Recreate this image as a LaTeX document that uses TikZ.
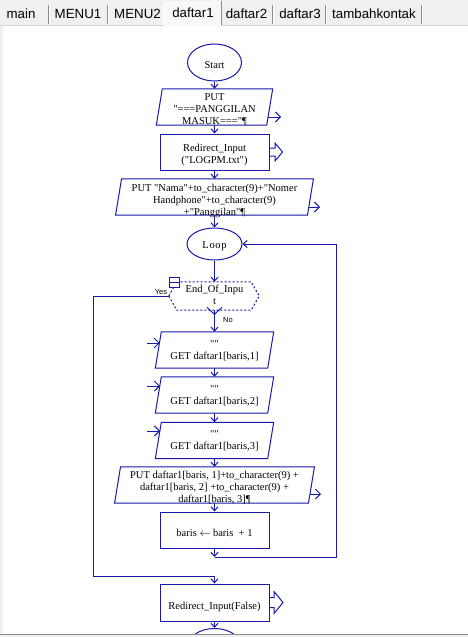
\documentclass[tikz,border=0pt]{standalone}
\usepackage{fontspec}
\setmainfont{Liberation Serif}[Ligatures=TeXOff]
\newfontfamily\tabfont{Liberation Sans}
\usetikzlibrary{arrows.meta,shapes.geometric}
\definecolor{fcblue}{RGB}{25,25,170}
\definecolor{tabbg}{RGB}{240,240,240}
\definecolor{tabsel}{RGB}{248,248,248}
\definecolor{tabdark}{RGB}{140,140,140}
\definecolor{tabedge}{RGB}{215,215,215}
\newcommand\fcpara[1]{\draw[fc] ([xshift=3pt]#1.north west) -- ([xshift=3pt]#1.north east) -- ([xshift=-3pt]#1.south east) -- ([xshift=-3pt]#1.south west) -- cycle;}
\begin{document}
\begin{tikzpicture}[x=1pt,y=-1pt,
  fc/.style={draw=fcblue,line width=1pt},
  conn/.style={draw=fcblue,line width=1pt,-{Straight Barb[length=4pt,width=7pt]}},
  outarr/.style={draw=fcblue,line width=1pt,-{Straight Barb[length=5pt,width=10pt]}},
  bigv/.style={draw=fcblue,line width=1pt,-{Straight Barb[length=7pt,width=15pt]}},
  txt/.style={font=\fontsize{10.5}{12}\selectfont,align=center,inner sep=0pt,text=black},
  ghost/.style={draw=none,inner sep=0pt},
  proc/.style={fc,inner sep=0pt,minimum width=109pt,minimum height=36pt},
  term/.style={fc,ellipse,inner sep=0pt},
  tabtext/.style={font=\tabfont\fontsize{13.3}{15}\selectfont,inner sep=0pt,anchor=base,text=black},
  lbl/.style={font=\tabfont\fontsize{7.5}{9}\selectfont,inner sep=0pt,text=black}
]
\useasboundingbox (0,0) rectangle (468,637);
\fill[white] (0,0) rectangle (468,637);
% ---- tab bar
\fill[tabbg] (0,0) rectangle (468,25);
\fill[tabsel] (163,1) rectangle (221,26);
\draw[tabedge,line width=1pt] (0,25.5) -- (163,25.5);
\draw[tabedge,line width=1pt] (221,25.5) -- (468,25.5);
\foreach \sx in {48,107,272,325,421} {
  \draw[tabdark,line width=1pt] (\sx,5) -- (\sx,24);
  \draw[white,line width=1pt] (\sx+1.5,5) -- (\sx+1.5,24);
}
\draw[white,line width=1pt] (163.5,1) -- (163.5,25);
\draw[tabdark,line width=1pt] (221,1) -- (221,25);
\node[tabtext] (tmain) at (21,19) {main};
\node[tabtext] (tm1) at (78,19) {MENU1};
\node[tabtext] (tm2) at (137.5,19) {MENU2};
\node[tabtext] (td1) at (193,17) {daftar1};
\node[tabtext] (td2) at (246.5,19) {daftar2};
\node[tabtext] (td3) at (300,19) {daftar3};
\node[tabtext] (ttk) at (374,19) {tambahkontak};
% ---- frame edges
\fill[tabbg] (0,26) rectangle (3,634);
% ---- flowchart shapes
\node[term,minimum width=54pt,minimum height=37pt] (start) at (214.5,62.5) {};
\node[txt] (startt) at (214.5,65.6) {\strut Start};

\node[ghost,minimum width=110pt,minimum height=36pt] (put1) at (214.5,107) {};
\fcpara{put1}
\node[txt] (put1t) at (214.5,110.5) {\strut PUT\\\strut"===PANGGILAN\\\strut MASUK==="¶};

\node[proc] (r1) at (214.5,152) {};
\node[txt] (r1t) at (214.5,155) {\strut Redirect\_Input\\\strut("LOGPM.txt")};

\node[ghost,minimum width=191.5pt,minimum height=36pt] (put2) at (214.5,197) {};
\fcpara{put2}
\node[txt] (put2t) at (214.5,201) {\strut PUT "Nama"+to\_character(9)+"Nomer\\\strut Handphone"+to\_character(9)\\\strut +"Panggilan"¶};

\node[term,minimum width=55pt,minimum height=32pt] (loop) at (214.5,244) {};
\node[txt] (loopt) at (214.5,245.6) {\strut\addfontfeature{LetterSpace=6}Loop};

\node[ghost,minimum width=90pt,minimum height=28pt] (dec) at (214,296) {};
\draw[fc,dash pattern=on 2pt off 2pt] (dec.west) -- ([xshift=8pt]dec.north west) -- ([xshift=-8pt]dec.north east) -- (dec.east) -- ([xshift=-8pt]dec.south east) -- ([xshift=8pt]dec.south west) -- cycle;
\node[txt] (dect) at (214.5,295.6) {\strut End\_Of\_Inpu\\\strut t};
\node[fc,fill=white,minimum size=10pt,inner sep=0pt] (icon) at (174,282.5) {};
\draw[fcblue,line width=1pt] (icon.west) -- (icon.east);
\node[lbl] (yes) at (161,292) {Yes};
\node[lbl] (no) at (228,320) {No};

\node[ghost,minimum width=112pt,minimum height=36pt] (get1) at (214.5,350) {};
\fcpara{get1}
\node[txt] (get1t) at (214.5,351) {\strut""\\\strut GET daftar1[baris,1]};

\node[ghost,minimum width=112pt,minimum height=36pt] (get2) at (214.5,395) {};
\fcpara{get2}
\node[txt] (get2t) at (214.5,396) {\strut""\\\strut GET daftar1[baris,2]};

\node[ghost,minimum width=112pt,minimum height=36pt] (get3) at (214.5,440.5) {};
\fcpara{get3}
\node[txt] (get3t) at (214.5,441.5) {\strut""\\\strut GET daftar1[baris,3]};

\node[ghost,minimum width=193.5pt,minimum height=36pt] (put3) at (214.5,485) {};
\fcpara{put3}
\node[txt] (put3t) at (214.5,488) {\strut PUT daftar1[baris, 1]+to\_character(9) +\\\strut daftar1[baris, 2] +to\_character(9) +\\\strut daftar1[baris, 3]¶};

\node[proc] (baris) at (214.5,530) {};
\node[txt] (barist) at (214.5,534) {\strut baris $\leftarrow$ baris~~+ 1};

\node[proc,minimum height=37pt] (r2) at (214.5,602.5) {};
\node[txt] (r2t) at (214.5,607) {\strut Redirect\_Input(False)};

\begin{scope}
\clip (0,0) rectangle (468,634);
\node[term,minimum width=54pt,minimum height=37pt] (endn) at (214.5,647) {};
\end{scope}

% ---- block arrows (redirect)
\draw[fc] ([yshift=4pt]r1.east) -- ++(5.5,0) -- ++(0,-5) -- ++(7.5,9) -- ++(-7.5,9) -- ++(0,-5) -- ([yshift=-4pt]r1.east);
\draw[fc] ([yshift=5pt]r2.east) -- ++(4.5,0) -- ++(0,-6) -- ++(9,11) -- ++(-9,11) -- ++(0,-6) -- ([yshift=-5pt]r2.east);

% ---- output arrows
\coordinate (put1o) at (267.8,117);
\coordinate (put1oe) at (281,117);
\draw[outarr] (put1o) -- (put1oe);
\coordinate (put2o) at (308.6,207);
\coordinate (put2oe) at (320,207);
\draw[outarr] (put2o) -- (put2oe);
\coordinate (put3o) at (309.8,494);
\coordinate (put3oe) at (321,494);
\draw[outarr] (put3o) -- (put3oe);

% ---- input arrows
\coordinate (get1i) at (147,343);
\coordinate (get1ie) at (159.7,343);
\draw[outarr] (get1i) -- (get1ie);
\coordinate (get2i) at (147,386);
\coordinate (get2ie) at (160,386);
\draw[outarr] (get2i) -- (get2ie);
\coordinate (get3i) at (147,431);
\coordinate (get3ie) at (160.1,431);
\draw[outarr] (get3i) -- (get3ie);

% ---- flow connectors
\draw[conn] (start.south) -- (put1.north);
\draw[conn] (put1.south) -- (r1.north);
\draw[conn] (r1.south) -- (put2.north);
\draw[conn] (put2.south) -- (loop.north);
\draw[conn] (loop.south) -- (loop.south |- dec.north);
\coordinate (decv) at (214.5,315);
\draw[bigv] (dec.south -| decv) -- (decv);
\draw[conn] (decv) -- (get1.north);
\draw[conn] (get1.south) -- (get2.north);
\draw[conn] (get2.south) -- (get3.north);
\draw[conn] (get3.south) -- (put3.north);
\draw[conn] (put3.south) -- (baris.north);
\coordinate (jb) at (214.5,557);
\coordinate (jr) at (336,557);
\coordinate (jt) at (336,244);
\draw[conn] (baris.south) -- (jb);
\draw[conn] (jb) -- (jr) -- (jt) -- (loop.east);
\coordinate (yl1) at (93,296);
\coordinate (yl2) at (93,576);
\coordinate (yl3) at (214.5,576);
\draw[conn] (dec.west) -- (yl1) -- (yl2) -- (yl3) -- (r2.north);
\draw[conn] (r2.south) -- (endn.north);

% ---- bottom edge
\fill[tabbg] (0,634) rectangle (468,637);
\draw[tabdark,line width=1pt] (0,634.5) -- (468,634.5);
\end{tikzpicture}
\end{document}
